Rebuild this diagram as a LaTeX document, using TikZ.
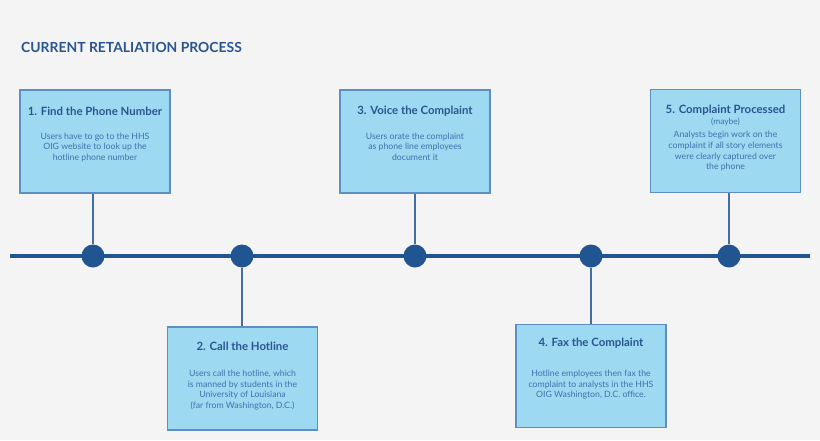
\documentclass[tikz,border=0pt]{standalone}
\usepackage{fontspec}
\setmainfont{Lato}
\usetikzlibrary{positioning}

\definecolor{bgcol}{HTML}{F4F4F5}
\definecolor{linecol}{HTML}{215592}
\definecolor{boxfill}{HTML}{9DD9F1}
\definecolor{boxdraw}{HTML}{5E8EC2}
\definecolor{headcol}{HTML}{2A5590}
\definecolor{bodycol}{HTML}{3F72AC}

\tikzset{
    box/.style={draw=boxdraw, line width=1.2pt, fill=boxfill,
        minimum width=150pt, minimum height=103pt, inner sep=0pt},
    head/.style={font=\fontsize{11.4}{13}\selectfont\bfseries, text=headcol, inner sep=0pt},
    body/.style={font=\fontsize{8.7}{10.6}\selectfont, text=bodycol, align=center, inner sep=0pt},
    dot/.style={circle, fill=linecol, minimum size=23pt, inner sep=0pt},
    stem/.style={draw=linecol!85!white, line width=1.4pt}
}

\begin{document}
\begin{tikzpicture}[x=1pt, y=-1pt]

    % Fond
    \fill[bgcol] (0,0) rectangle (820,440);

    % Titre
    \node[anchor=west, text=headcol, inner sep=0pt,
        font=\fontsize{13.9}{16}\selectfont\bfseries] (titre) at (21,47)
        {CURRENT RETALIATION PROCESS};

    % Ligne du temps
    \coordinate (debut) at (10,256);
    \coordinate (fin) at (810,256);
    \draw[linecol, line width=3.5pt] (debut) -- (fin);

    % Cases
    \node[box] (B1) at (95,141.5)  {};
    \node[box] (B2) at (242.5,378.5) {};
    \node[box] (B3) at (415,141.5) {};
    \node[box] (B4) at (591,376) {};
    \node[box] (B5) at (725.5,141) {};

    % Points
    \node[dot] (P1) at (93,256)  {};
    \node[dot] (P2) at (242,256) {};
    \node[dot] (P3) at (415,256) {};
    \node[dot] (P4) at (591,256) {};
    \node[dot] (P5) at (729,256) {};

    % Liaisons
    \draw[stem] (B1.south -| P1) -- (P1);
    \draw[stem] (P2) -- (B2.north -| P2);
    \draw[stem] (B3.south -| P3) -- (P3);
    \draw[stem] (P4) -- (B4.north -| P4);
    \draw[stem] (B5.south -| P5) -- (P5);

    % Textes
    \node[head] (H1) at ([yshift=-22pt]B1.north) {1. Find the Phone Number};
    \node[body, anchor=north] (T1) at ([yshift=-43pt]B1.north)
        {Users have to go to the HHS\\OIG website to look up the\\hotline phone number};

    \node[head] (H2) at ([yshift=-20pt]B2.north) {2. Call the Hotline};
    \node[body, anchor=north] (T2) at ([yshift=-43.5pt]B2.north)
        {Users call the hotline, which\\is manned by students in the\\University of Louisiana\\(far from Washington, D.C.)};

    \node[head] (H3) at ([yshift=-22pt]B3.north) {3. Voice the Complaint};
    \node[body, anchor=north] (T3) at ([yshift=-43pt]B3.north)
        {Users orate the complaint\\as phone line employees\\document it};

    \node[head] (H4) at ([yshift=-19pt]B4.north) {4. Fax the Complaint};
    \node[body, anchor=north] (T4) at ([yshift=-46pt]B4.north)
        {Hotline employees then fax the\\complaint to analysts in the HHS\\OIG Washington, D.C. office.};

    \node[head] (H5) at ([yshift=-21pt]B5.north) {5. Complaint Processed};
    \node[body, font=\fontsize{8.4}{9}\selectfont] (M5) at ([yshift=-33pt]B5.north) {(maybe)};
    \node[body, anchor=north, font=\fontsize{8.7}{10.8}\selectfont] (T5) at ([yshift=-42pt]B5.north)
        {Analysts begin work on the\\complaint if all story elements\\were clearly captured over\\the phone};

\end{tikzpicture}
\end{document}
